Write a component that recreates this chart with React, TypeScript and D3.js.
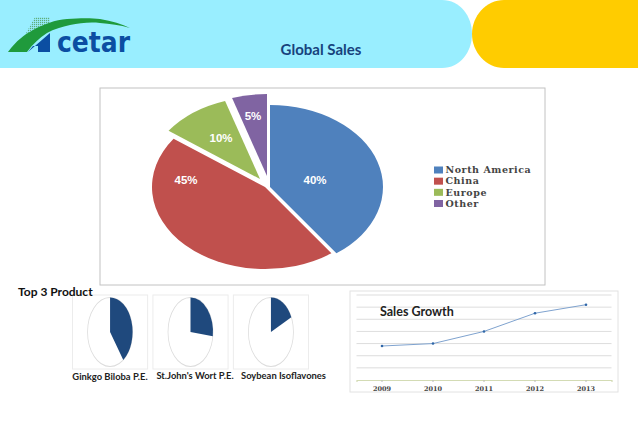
import { useEffect, useRef } from 'react';
import * as d3 from 'd3';

const regions = ['North America', 'China', 'Europe', 'Other'];
const regionShares = [40, 45, 10, 5];
const regionColors = ['#4f81bd', '#c0504d', '#9bbb59', '#8064a2'];

const products = ["Ginkgo Biloba P.E.", "St.John's Wort P.E.", 'Soybean Isoflavones'];
const productShares = [40, 27, 18];

const years = ['2009', '2010', '2011', '2012', '2013'];
const growth = [2.8, 3.0, 4.0, 5.5, 6.2];
const growthTicks = [0, 1, 2, 3, 4, 5, 6, 7];

const bodyFont = 'Lato, "Open Sans", sans-serif';
const titleBlue = '#17427c';

// how far each slice was pulled out of the pie in the original
const sliceShift = [
  [4, 0],
  [-1, 0],
  [-6, -8],
  [1, -11],
];
const labelPos = [
  [315, 180],
  [186, 180],
  [221, 138],
  [253, 116],
];
const captionPos = [
  [110, 380],
  [195, 379],
  [283.5, 379],
];

function MainPie() {
  const pie = d3.pie<number>().sort(null);
  const arc = d3.arc<d3.PieArcDatum<number>>().innerRadius(0).outerRadius(100);
  const arcs = pie(regionShares);
  return (
    <g>
      {arcs.map((a, i) => (
        <g key={regions[i]} transform={`translate(${266 + sliceShift[i][0]},${187 + sliceShift[i][1]}) scale(1.13,0.82)`}>
          <path d={arc(a) as string} fill={regionColors[i]} />
        </g>
      ))}
      {labelPos.map((p, i) => (
        <text
          key={i}
          x={p[0]}
          y={p[1]}
          dy="0.35em"
          textAnchor="middle"
          fill="#fff"
          fontFamily='"Liberation Sans", Arial, sans-serif'
          fontWeight="bold"
          fontSize={11.5}
        >
          {regionShares[i]}%
        </text>
      ))}
    </g>
  );
}

function Legend() {
  const y = d3.scalePoint<string>().domain(regions).range([170, 203.5]);
  return (
    <g>
      {regions.map((r, i) => (
        <g key={r}>
          <rect x={434} y={(y(r) as number) - 3.5} width={9} height={7} fill={regionColors[i]} />
          <text
            x={445.5}
            y={y(r) as number}
            dy="0.35em"
            fontFamily='"DejaVu Serif", serif'
            fontWeight="bold"
            fontSize={9.5}
            letterSpacing={0.55}
            fill="#444"
          >
            {r}
          </text>
        </g>
      ))}
    </g>
  );
}

function SmallPies() {
  const x = d3.scaleBand<string>().domain(products).range([72.5, 308.5]).paddingInner(0.066);
  const angle = d3.scaleLinear().domain([0, 100]).range([0, Math.PI * 2]);
  const arc = d3.arc();
  return (
    <g>
      {products.map((p, i) => {
        const left = x(p) as number;
        const cx = left + x.bandwidth() / 2;
        return (
          <g key={p}>
            <rect x={left} y={295} width={x.bandwidth()} height={74} fill="#fff" stroke="#ececec" strokeWidth={1} />
            <g transform={`translate(${cx},332) scale(0.225,0.345)`}>
              <circle r={100} fill="#fff" stroke="#dcdcdc" strokeWidth={3.4} />
              <path
                d={arc({ innerRadius: 0, outerRadius: 100, startAngle: 0, endAngle: angle(productShares[i]) }) as string}
                fill="#1f497d"
              />
            </g>
            <text
              x={captionPos[i][0]}
              y={captionPos[i][1]}
              textAnchor="middle"
              fontFamily={bodyFont}
              fontWeight="bold"
              fontSize={9.4}
              fill="#222"
            >
              {p}
            </text>
          </g>
        );
      })}
    </g>
  );
}

function GrowthChart() {
  const axisRef = useRef<SVGGElement>(null);
  const x = d3.scaleBand<string>().domain(years).range([356.5, 611.5]);
  const y = d3.scaleLinear().domain([0, 7]).range([380, 295]);
  const mid = (yr: string) => (x(yr) as number) + x.bandwidth() / 2;
  const line = d3
    .line<number>()
    .x((_, i) => mid(years[i]))
    .y(d => y(d));

  useEffect(() => {
    const g = d3.select(axisRef.current as SVGGElement);
    g.call(d3.axisBottom(x).tickSize(2).tickPadding(4) as any);
    g.select('.domain').attr('stroke', '#d3dbb4').attr('stroke-width', 1.2);
    g.selectAll('.tick line').attr('stroke', '#bbb');
    g.selectAll('.tick text')
      .attr('font-family', '"DejaVu Serif", serif')
      .attr('font-weight', 'bold')
      .attr('font-size', 6.5)
      .attr('fill', '#444');
  }, []);

  return (
    <g>
      <rect x={350} y={291} width={268} height={101} fill="#fff" stroke="#e2e2e2" strokeWidth={1} />
      {growthTicks.slice(1).map(t => (
        <line key={t} x1={356.5} x2={611.5} y1={y(t)} y2={y(t)} stroke="#d4d4d4" strokeWidth={0.8} />
      ))}
      <g ref={axisRef} transform="translate(0,380)" />
      <path d={line(growth) as string} fill="none" stroke="#7fa3cf" strokeWidth={1} />
      {growth.map((d, i) => (
        <circle key={years[i]} cx={mid(years[i])} cy={y(d)} r={1.3} fill="#2f66a8" />
      ))}
      <text x={380} y={315.5} fontFamily={bodyFont} fontWeight="bold" fontSize={12.5} fill="#222">
        Sales Growth
      </text>
    </g>
  );
}

function Header() {
  return (
    <g>
      <path d="M0 0H442C460 0 472 16 472 34C472 52 460 68 442 68H0Z" fill="#99eeff" />
      <path d="M638 0H504C486 0 472 16 472 34C472 52 486 68 504 68H638Z" fill="#ffcc00" />
      <defs>
        <pattern id="dots" width={2} height={2} patternUnits="userSpaceOnUse">
          <rect width={1.2} height={1.2} fill="#5fae7a" />
        </pattern>
      </defs>
      <path d="M25 35L35 17H50V24C41 26 32 30 25 35Z" fill="url(#dots)" />
      <path d="M8 52C17 40 24 35 33 30C44 24 55 20 67 19C80 18 92 18 100 19C112 21 122 24 130 28C120 25 110 24 100 23C90 22 80 23 70 25C62 27 54 29 47 33C39 38 33 44 27 52Z" fill="#1f9a3c" />
      <path d="M28 52L50 33V52H38V46H33Z" fill="#0b4ea2" />
      <text
        x={57}
        y={51.5}
        fontFamily='"DejaVu Sans", sans-serif'
        fontWeight="bold"
        fontSize={29}
        textLength={73}
        lengthAdjust="spacingAndGlyphs"
        fill="#0b4ea2"
      >
        cetar
      </text>
      <text x={321} y={54.5} textAnchor="middle" fontFamily={bodyFont} fontWeight="bold" fontSize={15} fill={titleBlue}>
        Global Sales
      </text>
    </g>
  );
}

export default function App() {
  return (
    <svg width={638} height={442} style={{ position: 'absolute', left: 0, top: 0, background: '#fff' }}>
      <Header />
      <rect x={100} y={88} width={445} height={197} fill="#fff" stroke="#c2c2c2" strokeWidth={1} />
      <MainPie />
      <Legend />
      <SmallPies />
      <text x={18} y={296} fontFamily={bodyFont} fontWeight="bold" fontSize={12} fill="#111">
        Top 3 Product
      </text>
      <GrowthChart />
    </svg>
  );
}
